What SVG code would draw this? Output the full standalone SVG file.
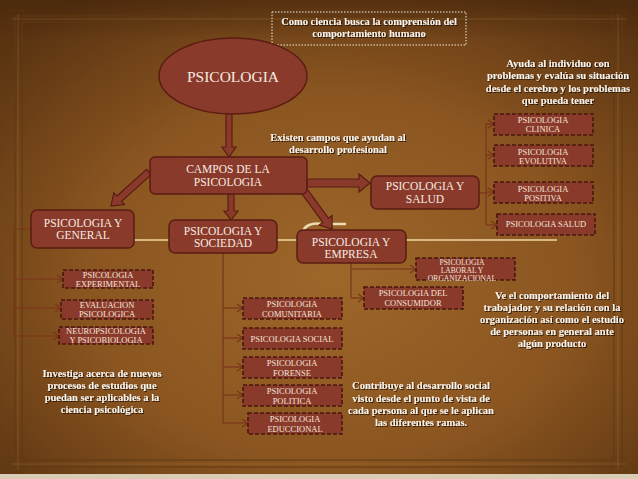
<svg xmlns="http://www.w3.org/2000/svg" width="638" height="479" viewBox="0 0 638 479">
<defs>
<radialGradient id="bg" cx="52%" cy="58%" r="70%">
<stop offset="0" stop-color="#9d672a"/>
<stop offset="0.55" stop-color="#8a5520"/>
<stop offset="1" stop-color="#5a3311"/>
</radialGradient>
<linearGradient id="topshade" x1="0" y1="0" x2="0" y2="1">
<stop offset="0" stop-color="#3a1e08" stop-opacity="0.45"/>
<stop offset="1" stop-color="#3a1e08" stop-opacity="0"/>
</linearGradient>
<filter id="sh" x="-10%" y="-30%" width="120%" height="160%">
<feDropShadow dx="1" dy="1" stdDeviation="0.6" flood-color="#1a0a02" flood-opacity="0.85"/>
</filter>
<marker id="chev" markerUnits="userSpaceOnUse" markerWidth="8" markerHeight="10" refX="7" refY="5" orient="auto">
<path d="M1,1 L7,5 L1,9" fill="none" stroke="#7a3419" stroke-width="1.1"/>
</marker>
<style>
.node{fill:#8a3a2b;stroke:#5a1d12;stroke-width:1.5}
.sub{fill:#8a3a2b;stroke:#4a170e;stroke-width:1.6;stroke-dasharray:4 2}
.big{font-family:"Liberation Serif","DejaVu Serif",serif;font-size:11.5px;fill:#f6ebe2;text-anchor:middle}
.sm{font-family:"Liberation Serif","DejaVu Serif",serif;font-size:8.5px;fill:#f3e4da;text-anchor:middle}
.xs{font-family:"Liberation Serif","DejaVu Serif",serif;font-size:7.6px;fill:#f3e4da;text-anchor:middle}
.note{font-family:"Liberation Serif","DejaVu Serif",serif;font-size:10.5px;font-weight:bold;fill:#fbf3ea;text-anchor:middle;filter:url(#sh)}
.conn{fill:none;stroke:#7a3419;stroke-width:1.2}
.blk{fill:#8a3a2b;stroke:#5a1d12;stroke-width:1.2;stroke-linejoin:miter}
.frame{fill:none;stroke:#5e3a12;stroke-width:1}
</style>
</defs>

<!-- background -->
<rect x="0" y="0" width="638" height="479" fill="url(#bg)"/>
<rect x="0" y="0" width="638" height="40" fill="url(#topshade)"/>
<rect x="0" y="474" width="638" height="5" fill="#d8ccb4"/>

<!-- frame -->
<g id="frame">
<rect class="frame" x="15" y="16" width="607" height="451"/>
<rect class="frame" x="22" y="22" width="592" height="438"/>
<line x1="18" y1="14" x2="18" y2="470" stroke="#a9793a" stroke-opacity="0.35"/>
<line x1="12" y1="19" x2="626" y2="19" stroke="#a9793a" stroke-opacity="0.35"/>
<line x1="12" y1="464" x2="626" y2="464" stroke="#a9793a" stroke-opacity="0.35"/>
<line x1="618" y1="14" x2="618" y2="470" stroke="#a9793a" stroke-opacity="0.35"/>
<rect x="10" y="10" width="14" height="14" fill="none" stroke="#5e3a12" stroke-opacity="0.6"/>
<rect x="612" y="10" width="14" height="14" fill="none" stroke="#5e3a12" stroke-opacity="0.6"/>
<rect x="10" y="458" width="14" height="14" fill="none" stroke="#5e3a12" stroke-opacity="0.6"/>
<rect x="612" y="458" width="14" height="14" fill="none" stroke="#5e3a12" stroke-opacity="0.6"/>
</g>

<!-- cream line and flourish -->
<line x1="134" y1="240" x2="557" y2="240" stroke="#efd9a4" stroke-width="1.5"/>
<path d="M322,224 C312,222 304,226 303,232 M322,224 L346,224" fill="none" stroke="#eddcb0" stroke-width="2.5"/>

<!-- connectors -->
<g id="connectors">
<!-- block arrows -->
<g transform="translate(229,114) rotate(90)"><polygon class="blk" points="0,-3 33,-3 33,-7 43,0 33,7 33,3 0,3"/></g>
<g transform="translate(231,194) rotate(90)"><polygon class="blk" points="0,-3 17,-3 17,-7 26,0 17,7 17,3 0,3"/></g>
<g transform="translate(307,183)"><polygon class="blk" points="0,-4 52,-4 52,-9 63,0 52,9 52,4 0,4"/></g>
<g transform="translate(149,172) rotate(138.2)"><polygon class="blk" points="0,-3.5 40,-3.5 40,-8 51,0 40,8 40,3.5 0,3.5"/></g>
<g transform="translate(302,188) rotate(53.8)"><polygon class="blk" points="0,-3.5 40,-3.5 40,-8 51,0 40,8 40,3.5 0,3.5"/></g>

<!-- general -->
<path class="conn" d="M31,229 H14 V336"/>
<line class="conn" x1="14" y1="279" x2="63" y2="279" marker-end="url(#chev)"/>
<line class="conn" x1="14" y1="308" x2="61" y2="308" marker-end="url(#chev)"/>
<line class="conn" x1="14" y1="336" x2="59" y2="336" marker-end="url(#chev)"/>

<!-- sociedad -->
<line class="conn" x1="223" y1="253" x2="223" y2="423"/>
<line class="conn" x1="223" y1="308" x2="243" y2="308" marker-end="url(#chev)"/>
<line class="conn" x1="223" y1="338" x2="243" y2="338" marker-end="url(#chev)"/>
<line class="conn" x1="223" y1="367" x2="243" y2="367" marker-end="url(#chev)"/>
<line class="conn" x1="223" y1="395" x2="243" y2="395" marker-end="url(#chev)"/>
<line class="conn" x1="223" y1="423" x2="248" y2="423" marker-end="url(#chev)"/>

<!-- empresa -->
<path class="conn" d="M351,263 V298"/>
<line class="conn" x1="351" y1="298" x2="364" y2="298" marker-end="url(#chev)"/>
<line class="conn" x1="351" y1="269" x2="416" y2="269" marker-end="url(#chev)"/>

<!-- salud -->
<path class="conn" d="M479,193 H486"/>
<line class="conn" x1="486" y1="124" x2="486" y2="225"/>
<line class="conn" x1="486" y1="124" x2="494" y2="124" marker-end="url(#chev)"/>
<line class="conn" x1="486" y1="155" x2="494" y2="155" marker-end="url(#chev)"/>
<line class="conn" x1="486" y1="192" x2="494" y2="192" marker-end="url(#chev)"/>
<line class="conn" x1="486" y1="225" x2="497" y2="225" marker-end="url(#chev)"/>
</g>

<!-- notes -->
<g id="note-top">
<rect x="272" y="12" width="194" height="33" fill="none" stroke="#f4ece0" stroke-width="1" stroke-dasharray="1.5 1.5"/>
<text class="note" x="369" y="25">Como ciencia busca la comprensión del</text>
<text class="note" x="369" y="37">comportamiento humano</text>
</g>
<g id="note-ayuda">
<text class="note" x="558" y="67">Ayuda al individuo con</text>
<text class="note" x="558" y="79">problemas y evalúa su situación</text>
<text class="note" x="558" y="92">desde el cerebro y los problemas</text>
<text class="note" x="558" y="104">que pueda tener</text>
</g>
<g id="note-existen">
<text class="note" x="338" y="141">Existen campos que ayudan al</text>
<text class="note" x="338" y="153">desarrollo profesional</text>
</g>
<g id="note-ve">
<text class="note" x="552" y="299">Ve el comportamiento del</text>
<text class="note" x="552" y="311">trabajador y su relación con la</text>
<text class="note" x="552" y="323">organización así como el estudio</text>
<text class="note" x="552" y="335">de personas en general ante</text>
<text class="note" x="552" y="347">algún producto</text>
</g>
<g id="note-contribuye">
<text class="note" x="421" y="389">Contribuye al desarrollo social</text>
<text class="note" x="421" y="402">visto desde el punto de vista de</text>
<text class="note" x="421" y="414">cada persona al que se le aplican</text>
<text class="note" x="421" y="426">las diferentes ramas.</text>
</g>
<g id="note-investiga">
<text class="note" x="102" y="377">Investiga acerca de nuevos</text>
<text class="note" x="102" y="389">procesos de estudios que</text>
<text class="note" x="102" y="401">puedan ser aplicables a la</text>
<text class="note" x="102" y="413">ciencia psicológica</text>
</g>

<!-- main nodes -->
<g id="psicologia">
<ellipse cx="233" cy="76" rx="74" ry="38" class="node"/>
<text class="big" x="233" y="82" style="font-size:15.5px">PSICOLOGIA</text>
</g>
<g id="campos">
<rect x="150" y="157" width="157" height="37" rx="5" class="node"/>
<text class="big" x="228" y="173">CAMPOS DE LA</text>
<text class="big" x="228" y="186">PSICOLOGIA</text>
</g>
<g id="general">
<rect x="31" y="210" width="103" height="38" rx="6" class="node"/>
<text class="big" x="83" y="227">PSICOLOGIA Y</text>
<text class="big" x="83" y="239">GENERAL</text>
</g>
<g id="sociedad">
<rect x="169" y="220" width="108" height="33" rx="6" class="node"/>
<text class="big" x="223" y="235">PSICOLOGIA Y</text>
<text class="big" x="223" y="247">SOCIEDAD</text>
</g>
<g id="empresa">
<rect x="297" y="230" width="109" height="33" rx="6" class="node"/>
<text class="big" x="351" y="246">PSICOLOGIA Y</text>
<text class="big" x="351" y="258">EMPRESA</text>
</g>
<g id="salud">
<rect x="371" y="176" width="108" height="33" rx="6" class="node"/>
<text class="big" x="425" y="190">PSICOLOGIA Y</text>
<text class="big" x="425" y="203">SALUD</text>
</g>

<!-- sub nodes: general -->
<g id="experimental">
<rect x="63" y="270" width="90" height="18" class="sub"/>
<text class="sm" x="108" y="277.5">PSICOLOGIA</text>
<text class="sm" x="108" y="287">EXPERIMENTAL</text>
</g>
<g id="evaluacion">
<rect x="61" y="300" width="92" height="19" class="sub"/>
<text class="sm" x="107" y="308">EVALUACION</text>
<text class="sm" x="107" y="317">PSICOLOGICA</text>
</g>
<g id="neuro">
<rect x="59" y="327" width="94" height="17" class="sub"/>
<text class="sm" x="106" y="333.5">NEUROPSICOLOGIA</text>
<text class="sm" x="106" y="342.5">Y PSICOBIOLOGIA</text>
</g>

<!-- sub nodes: sociedad -->
<g id="comunitaria">
<rect x="243" y="298" width="99" height="21" class="sub"/>
<text class="sm" x="292" y="307">PSICOLOGIA</text>
<text class="sm" x="292" y="317">COMUNITARIA</text>
</g>
<g id="social">
<rect x="243" y="328" width="99" height="21" class="sub"/>
<text class="sm" x="292" y="342">PSICOLOGIA SOCIAL</text>
</g>
<g id="forense">
<rect x="243" y="357" width="99" height="21" class="sub"/>
<text class="sm" x="292" y="366">PSICOLOGIA</text>
<text class="sm" x="292" y="376">FORENSE</text>
</g>
<g id="politica">
<rect x="243" y="385" width="99" height="21" class="sub"/>
<text class="sm" x="292" y="394">PSICOLOGIA</text>
<text class="sm" x="292" y="403.5">POLITICA</text>
</g>
<g id="educcional">
<rect x="248" y="413" width="94" height="21" class="sub"/>
<text class="sm" x="295" y="422">PSICOLOGIA</text>
<text class="sm" x="295" y="432">EDUCCIONAL</text>
</g>

<!-- sub nodes: empresa -->
<g id="laboral">
<rect x="416" y="258" width="99" height="22" class="sub"/>
<text class="xs" x="462" y="264.5">PSICOLOGIA</text>
<text class="xs" x="462" y="272.5">LABORAL Y</text>
<text class="xs" x="462" y="280.5">ORGANIZACIONAL</text>
</g>
<g id="consumidor">
<rect x="364" y="287" width="99" height="22" class="sub"/>
<text class="sm" x="413" y="296">PSICOLOGIA  DEL</text>
<text class="sm" x="413" y="306">CONSUMIDOR</text>
</g>

<!-- sub nodes: salud -->
<g id="clinica">
<rect x="494" y="114" width="99" height="21" class="sub"/>
<text class="sm" x="543" y="123">PSICOLOGIA</text>
<text class="sm" x="543" y="132">CLINICA</text>
</g>
<g id="evolutiva">
<rect x="494" y="145" width="99" height="21" class="sub"/>
<text class="sm" x="543" y="155">PSICOLOGIA</text>
<text class="sm" x="543" y="164">EVOLUTIVA</text>
</g>
<g id="positiva">
<rect x="494" y="182" width="99" height="21" class="sub"/>
<text class="sm" x="543" y="192">PSICOLOGIA</text>
<text class="sm" x="543" y="200.5">POSITIVA</text>
</g>
<g id="psalud">
<rect x="497" y="214" width="98" height="21" class="sub"/>
<text class="sm" x="546" y="227">PSICOLOGIA SALUD</text>
</g>
</svg>
